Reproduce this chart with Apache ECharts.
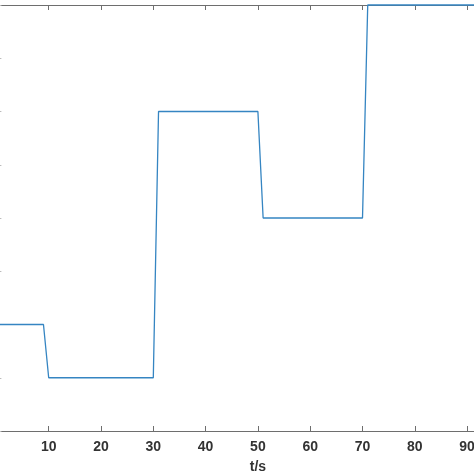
<!DOCTYPE html>
<html>
<head>
<meta charset="utf-8">
<script src="https://cdn.jsdelivr.net/npm/echarts@6/dist/echarts.min.js"></script>
<style>html,body{margin:0;padding:0;background:#fff;}#c{width:474px;height:474px;}</style>
</head>
<body>
<div id="c"></div>
<script>
// time points (s) and signal values
const times = [0, 9, 10, 30, 31, 50, 51, 70, 71, 100];
const values = [2, 2, 1, 1, 6, 6, 4, 4, 8, 8];
const xTicks = [0, 10, 20, 30, 40, 50, 60, 70, 80, 90, 100];
const xName = 't/s';

const axisColor = '#6e6e6e';
const chart = echarts.init(document.getElementById('c'), null, {renderer: 'canvas'});
chart.setOption({
  animation: false,
  backgroundColor: '#fff',
  grid: {left: -3.6, width: 523, top: 5, bottom: 43, containLabel: false, outerBoundsMode: 'none'},
  xAxis: [{
    type: 'value', min: 0, max: 100, interval: 10, position: 'bottom',
    name: xName, nameLocation: 'middle', nameGap: 29,
    nameTextStyle: {fontFamily: 'Liberation Sans', fontWeight: 'bold', fontSize: 14, color: '#333'},
    axisLine: {show: true, lineStyle: {color: axisColor, width: 1}},
    axisTick: {show: true, inside: true, length: 5, lineStyle: {color: axisColor}},
    axisLabel: {fontFamily: 'Liberation Sans', fontWeight: 'bold', fontSize: 14, color: '#333', margin: 9,
      formatter: v => (xTicks.indexOf(v) >= 0 && v !== 0 && v !== 100) ? String(v) : ''},
    splitLine: {show: false}
  }, {
    type: 'value', min: 0, max: 100, interval: 10, position: 'top',
    axisLine: {show: true, lineStyle: {color: axisColor, width: 1}},
    axisTick: {show: true, inside: true, length: 5, lineStyle: {color: axisColor}},
    axisLabel: {show: false}, splitLine: {show: false}
  }],
  yAxis: [{
    type: 'value', min: 0, max: 8, interval: 1, position: 'left',
    axisLine: {show: true, lineStyle: {color: axisColor}},
    axisTick: {show: true, inside: true, length: 5, lineStyle: {color: '#bbb'}},
    axisLabel: {show: false}, splitLine: {show: false}
  }],
  series: [{
    type: 'line', data: times.map((t, i) => [t, values[i]]),
    showSymbol: false, symbol: 'none',
    lineStyle: {color: '#3585c2', width: 1.3},
    clip: false
  }]
});
</script>
</body>
</html>
